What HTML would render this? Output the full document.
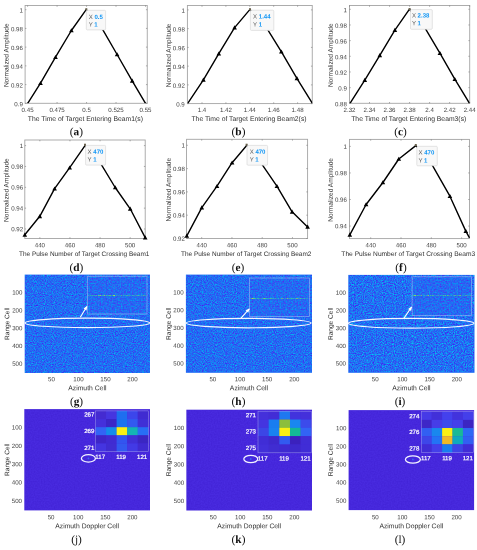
<!DOCTYPE html>
<html lang="en"><head><meta charset="utf-8"><title>Figure</title>
<style>
html,body{margin:0;padding:0;background:#fff}
svg{display:block}
text{font-family:"Liberation Sans",Arial,Helvetica,sans-serif}
text.cap{font-family:"Liberation Serif","Times New Roman",serif}
</style></head><body>
<svg width="477" height="550" viewBox="0 0 477 550">
<defs>
<filter id="nG" x="0" y="0" width="100%" height="100%" color-interpolation-filters="sRGB"><feTurbulence type="fractalNoise" baseFrequency="0.9" numOctaves="2" seed="7"/><feColorMatrix type="matrix" values="-0.42 0.2 0 0 0.245  0.90 0 0 0 -0.025  0 -0.06 0 0 0.98  0 0 0 0 1"/></filter>
<filter id="nH" x="0" y="0" width="100%" height="100%" color-interpolation-filters="sRGB"><feTurbulence type="fractalNoise" baseFrequency="0.9" numOctaves="2" seed="21"/><feColorMatrix type="matrix" values="-0.42 0.2 0 0 0.245  0.90 0 0 0 -0.025  0 -0.06 0 0 0.98  0 0 0 0 1"/></filter>
<filter id="nI" x="0" y="0" width="100%" height="100%" color-interpolation-filters="sRGB"><feTurbulence type="fractalNoise" baseFrequency="0.9" numOctaves="2" seed="42"/><feColorMatrix type="matrix" values="-0.45 0.2 0 0 0.26  1.05 0 0 0 -0.09  0 -0.06 0 0 0.98  0 0 0 0 1"/></filter>
<filter id="nJ" x="0" y="0" width="100%" height="100%" color-interpolation-filters="sRGB"><feTurbulence type="fractalNoise" baseFrequency="0.7" numOctaves="1" seed="5"/><feColorMatrix type="matrix" values="0.05 0 0 0 0.249  0.06 0 0 0 0.125  0.07 0 0 0 0.828  0 0 0 0 1"/></filter>
<filter id="nIn" x="0" y="0" width="100%" height="100%" color-interpolation-filters="sRGB"><feTurbulence type="fractalNoise" baseFrequency="0.65" numOctaves="2" seed="11"/><feColorMatrix type="matrix" values="-0.42 0.2 0 0 0.255  0.64 0 0 0 0.095  0 -0.06 0 0 0.98  0 0 0 0 1"/></filter>
<clipPath id="ca"><rect x="25.10" y="5.45" width="122.15" height="97.85"/></clipPath>
<clipPath id="cb"><rect x="187.40" y="5.45" width="124.85" height="98.15"/></clipPath>
<clipPath id="cc"><rect x="349.45" y="5.45" width="120.25" height="97.85"/></clipPath>
<clipPath id="cd"><rect x="21.80" y="140.00" width="126.40" height="99.50"/></clipPath>
<clipPath id="ce"><rect x="183.55" y="139.30" width="127.05" height="100.15"/></clipPath>
<clipPath id="cf"><rect x="346.50" y="139.40" width="126.00" height="100.20"/></clipPath>
</defs>
<rect width="477" height="550" fill="#fff"/>
<rect x="25.10" y="5.45" width="122.15" height="97.85" fill="#fff" stroke="#a4a4a4" stroke-width="0.9"/>
<path d="M27.60 103.30v-1.3M27.60 5.45v1.3" stroke="#777" stroke-width="0.6" fill="none"/>
<text x="27.60" y="112.00" transform="rotate(0.05 27.60 112.00)" font-size="6.15" text-anchor="middle" fill="#3c3c3c" >0.45</text>
<path d="M57.07 103.30v-1.3M57.07 5.45v1.3" stroke="#777" stroke-width="0.6" fill="none"/>
<text x="57.07" y="112.00" transform="rotate(0.05 57.07 112.00)" font-size="6.15" text-anchor="middle" fill="#3c3c3c" >0.475</text>
<path d="M86.55 103.30v-1.3M86.55 5.45v1.3" stroke="#777" stroke-width="0.6" fill="none"/>
<text x="86.55" y="112.00" transform="rotate(0.05 86.55 112.00)" font-size="6.15" text-anchor="middle" fill="#3c3c3c" >0.5</text>
<path d="M116.03 103.30v-1.3M116.03 5.45v1.3" stroke="#777" stroke-width="0.6" fill="none"/>
<text x="116.03" y="112.00" transform="rotate(0.05 116.03 112.00)" font-size="6.15" text-anchor="middle" fill="#3c3c3c" >0.525</text>
<path d="M145.50 103.30v-1.3M145.50 5.45v1.3" stroke="#777" stroke-width="0.6" fill="none"/>
<text x="145.50" y="112.00" transform="rotate(0.05 145.50 112.00)" font-size="6.15" text-anchor="middle" fill="#3c3c3c" >0.55</text>
<path d="M25.10 9.70h1.3M147.25 9.70h-1.3" stroke="#777" stroke-width="0.6" fill="none"/>
<text x="22.90" y="12.60" transform="rotate(0.05 22.90 12.60)" font-size="6.15" text-anchor="end" fill="#3c3c3c" >1</text>
<path d="M25.10 28.42h1.3M147.25 28.42h-1.3" stroke="#777" stroke-width="0.6" fill="none"/>
<text x="22.90" y="31.32" transform="rotate(0.05 22.90 31.32)" font-size="6.15" text-anchor="end" fill="#3c3c3c" >0.98</text>
<path d="M25.10 47.14h1.3M147.25 47.14h-1.3" stroke="#777" stroke-width="0.6" fill="none"/>
<text x="22.90" y="50.04" transform="rotate(0.05 22.90 50.04)" font-size="6.15" text-anchor="end" fill="#3c3c3c" >0.96</text>
<path d="M25.10 65.86h1.3M147.25 65.86h-1.3" stroke="#777" stroke-width="0.6" fill="none"/>
<text x="22.90" y="68.76" transform="rotate(0.05 22.90 68.76)" font-size="6.15" text-anchor="end" fill="#3c3c3c" >0.94</text>
<path d="M25.10 84.58h1.3M147.25 84.58h-1.3" stroke="#777" stroke-width="0.6" fill="none"/>
<text x="22.90" y="87.48" transform="rotate(0.05 22.90 87.48)" font-size="6.15" text-anchor="end" fill="#3c3c3c" >0.92</text>
<path d="M25.10 103.30h1.3M147.25 103.30h-1.3" stroke="#777" stroke-width="0.6" fill="none"/>
<text x="22.90" y="106.20" transform="rotate(0.05 22.90 106.20)" font-size="6.15" text-anchor="end" fill="#3c3c3c" >0.9</text>
<g clip-path="url(#ca)">
<polyline points="27.70,103.30 40.50,83.20 55.50,57.20 71.40,30.50 86.20,9.60 102.00,28.30 117.10,54.50 132.20,80.90 145.50,103.30" fill="none" stroke="#000" stroke-width="1.4" stroke-linejoin="round"/>
</g>
<polygon points="40.50,80.90 38.20,85.04 42.80,85.04" fill="#000"/>
<polygon points="55.50,54.90 53.20,59.04 57.80,59.04" fill="#000"/>
<polygon points="71.40,28.20 69.10,32.34 73.70,32.34" fill="#000"/>
<polygon points="117.10,52.20 114.80,56.34 119.40,56.34" fill="#000"/>
<polygon points="132.20,78.60 129.90,82.74 134.50,82.74" fill="#000"/>
<rect x="85.30" y="8.20" width="2" height="2" fill="#6b6450"/>
<rect x="86.30" y="10.30" width="19.30" height="19.60" rx="1" fill="#f8f8f8" stroke="#d4d4d4" stroke-width="0.6"/>
<text x="88.70" y="19.10" transform="rotate(0.05 86.30 10.30)" font-size="6.05" fill="#5c5c5c">X <tspan font-weight="bold" fill="#1196f5">0.5</tspan></text>
<text x="88.70" y="26.60" transform="rotate(0.05 86.30 10.30)" font-size="6.05" fill="#5c5c5c">Y <tspan font-weight="bold" fill="#1196f5">1</tspan></text>
<text x="85.38" y="121.00" transform="rotate(0.05 85.38 121.00)" font-size="6.8" text-anchor="middle" fill="#303030" >The Time of Target Entering Beam1(s)</text>
<text transform="translate(8.60,55.27) rotate(-89.95)" font-size="6.55" text-anchor="middle" fill="#303030">Normalized Amplitude</text>
<text x="76.30" y="135.20" transform="rotate(0.05 76.30 135.20)" font-size="11.3" text-anchor="middle" fill="#111" class="cap">(<tspan font-weight="bold">a</tspan>)</text>
<rect x="187.40" y="5.45" width="124.85" height="98.15" fill="#fff" stroke="#a4a4a4" stroke-width="0.9"/>
<path d="M202.00 103.60v-1.3M202.00 5.45v1.3" stroke="#777" stroke-width="0.6" fill="none"/>
<text x="202.00" y="112.00" transform="rotate(0.05 202.00 112.00)" font-size="6.15" text-anchor="middle" fill="#3c3c3c" >1.4</text>
<path d="M225.90 103.60v-1.3M225.90 5.45v1.3" stroke="#777" stroke-width="0.6" fill="none"/>
<text x="225.90" y="112.00" transform="rotate(0.05 225.90 112.00)" font-size="6.15" text-anchor="middle" fill="#3c3c3c" >1.42</text>
<path d="M249.80 103.60v-1.3M249.80 5.45v1.3" stroke="#777" stroke-width="0.6" fill="none"/>
<text x="249.80" y="112.00" transform="rotate(0.05 249.80 112.00)" font-size="6.15" text-anchor="middle" fill="#3c3c3c" >1.44</text>
<path d="M273.70 103.60v-1.3M273.70 5.45v1.3" stroke="#777" stroke-width="0.6" fill="none"/>
<text x="273.70" y="112.00" transform="rotate(0.05 273.70 112.00)" font-size="6.15" text-anchor="middle" fill="#3c3c3c" >1.46</text>
<path d="M297.60 103.60v-1.3M297.60 5.45v1.3" stroke="#777" stroke-width="0.6" fill="none"/>
<text x="297.60" y="112.00" transform="rotate(0.05 297.60 112.00)" font-size="6.15" text-anchor="middle" fill="#3c3c3c" >1.48</text>
<path d="M187.40 9.90h1.3M312.25 9.90h-1.3" stroke="#777" stroke-width="0.6" fill="none"/>
<text x="184.80" y="12.80" transform="rotate(0.05 184.80 12.80)" font-size="6.15" text-anchor="end" fill="#3c3c3c" >1</text>
<path d="M187.40 28.65h1.3M312.25 28.65h-1.3" stroke="#777" stroke-width="0.6" fill="none"/>
<text x="184.80" y="31.55" transform="rotate(0.05 184.80 31.55)" font-size="6.15" text-anchor="end" fill="#3c3c3c" >0.98</text>
<path d="M187.40 47.40h1.3M312.25 47.40h-1.3" stroke="#777" stroke-width="0.6" fill="none"/>
<text x="184.80" y="50.30" transform="rotate(0.05 184.80 50.30)" font-size="6.15" text-anchor="end" fill="#3c3c3c" >0.96</text>
<path d="M187.40 66.15h1.3M312.25 66.15h-1.3" stroke="#777" stroke-width="0.6" fill="none"/>
<text x="184.80" y="69.05" transform="rotate(0.05 184.80 69.05)" font-size="6.15" text-anchor="end" fill="#3c3c3c" >0.94</text>
<path d="M187.40 84.90h1.3M312.25 84.90h-1.3" stroke="#777" stroke-width="0.6" fill="none"/>
<text x="184.80" y="87.80" transform="rotate(0.05 184.80 87.80)" font-size="6.15" text-anchor="end" fill="#3c3c3c" >0.92</text>
<path d="M187.40 103.65h1.3M312.25 103.65h-1.3" stroke="#777" stroke-width="0.6" fill="none"/>
<text x="184.80" y="106.55" transform="rotate(0.05 184.80 106.55)" font-size="6.15" text-anchor="end" fill="#3c3c3c" >0.9</text>
<g clip-path="url(#cb)">
<polyline points="187.70,103.40 203.40,79.90 218.80,53.70 234.60,27.60 249.80,9.60 265.50,26.10 281.30,51.70 296.90,78.30 312.40,103.40" fill="none" stroke="#000" stroke-width="1.4" stroke-linejoin="round"/>
</g>
<polygon points="203.40,77.60 201.10,81.74 205.70,81.74" fill="#000"/>
<polygon points="218.80,51.40 216.50,55.54 221.10,55.54" fill="#000"/>
<polygon points="234.60,25.30 232.30,29.44 236.90,29.44" fill="#000"/>
<polygon points="281.30,49.40 279.00,53.54 283.60,53.54" fill="#000"/>
<polygon points="296.90,76.00 294.60,80.14 299.20,80.14" fill="#000"/>
<rect x="249.00" y="8.20" width="2" height="2" fill="#6b6450"/>
<rect x="250.40" y="10.20" width="23.40" height="20.20" rx="1" fill="#f8f8f8" stroke="#d4d4d4" stroke-width="0.6"/>
<text x="253.10" y="18.50" transform="rotate(0.05 250.40 10.20)" font-size="6.05" fill="#5c5c5c">X <tspan font-weight="bold" fill="#1196f5">1.44</tspan></text>
<text x="253.10" y="26.50" transform="rotate(0.05 250.40 10.20)" font-size="6.05" fill="#5c5c5c">Y <tspan font-weight="bold" fill="#1196f5">1</tspan></text>
<text x="249.02" y="121.00" transform="rotate(0.05 249.02 121.00)" font-size="6.8" text-anchor="middle" fill="#303030" >The Time of Target Entering Beam2(s)</text>
<text transform="translate(170.80,55.42) rotate(-89.95)" font-size="6.55" text-anchor="middle" fill="#303030">Normalized Amplitude</text>
<text x="238.50" y="135.20" transform="rotate(0.05 238.50 135.20)" font-size="11.3" text-anchor="middle" fill="#111" class="cap">(<tspan font-weight="bold">b</tspan>)</text>
<rect x="349.45" y="5.45" width="120.25" height="97.85" fill="#fff" stroke="#a4a4a4" stroke-width="0.9"/>
<path d="M349.50 103.30v-1.3M349.50 5.45v1.3" stroke="#777" stroke-width="0.6" fill="none"/>
<text x="349.50" y="112.00" transform="rotate(0.05 349.50 112.00)" font-size="6.15" text-anchor="middle" fill="#3c3c3c" >2.32</text>
<path d="M369.53 103.30v-1.3M369.53 5.45v1.3" stroke="#777" stroke-width="0.6" fill="none"/>
<text x="369.53" y="112.00" transform="rotate(0.05 369.53 112.00)" font-size="6.15" text-anchor="middle" fill="#3c3c3c" >2.34</text>
<path d="M389.56 103.30v-1.3M389.56 5.45v1.3" stroke="#777" stroke-width="0.6" fill="none"/>
<text x="389.56" y="112.00" transform="rotate(0.05 389.56 112.00)" font-size="6.15" text-anchor="middle" fill="#3c3c3c" >2.36</text>
<path d="M409.59 103.30v-1.3M409.59 5.45v1.3" stroke="#777" stroke-width="0.6" fill="none"/>
<text x="409.59" y="112.00" transform="rotate(0.05 409.59 112.00)" font-size="6.15" text-anchor="middle" fill="#3c3c3c" >2.38</text>
<path d="M429.62 103.30v-1.3M429.62 5.45v1.3" stroke="#777" stroke-width="0.6" fill="none"/>
<text x="429.62" y="112.00" transform="rotate(0.05 429.62 112.00)" font-size="6.15" text-anchor="middle" fill="#3c3c3c" >2.4</text>
<path d="M449.65 103.30v-1.3M449.65 5.45v1.3" stroke="#777" stroke-width="0.6" fill="none"/>
<text x="449.65" y="112.00" transform="rotate(0.05 449.65 112.00)" font-size="6.15" text-anchor="middle" fill="#3c3c3c" >2.42</text>
<path d="M469.68 103.30v-1.3M469.68 5.45v1.3" stroke="#777" stroke-width="0.6" fill="none"/>
<text x="469.68" y="112.00" transform="rotate(0.05 469.68 112.00)" font-size="6.15" text-anchor="middle" fill="#3c3c3c" >2.44</text>
<path d="M349.45 9.30h1.3M469.70 9.30h-1.3" stroke="#777" stroke-width="0.6" fill="none"/>
<text x="346.85" y="12.20" transform="rotate(0.05 346.85 12.20)" font-size="6.15" text-anchor="end" fill="#3c3c3c" >1</text>
<path d="M349.45 24.97h1.3M469.70 24.97h-1.3" stroke="#777" stroke-width="0.6" fill="none"/>
<text x="346.85" y="27.87" transform="rotate(0.05 346.85 27.87)" font-size="6.15" text-anchor="end" fill="#3c3c3c" >0.98</text>
<path d="M349.45 40.64h1.3M469.70 40.64h-1.3" stroke="#777" stroke-width="0.6" fill="none"/>
<text x="346.85" y="43.54" transform="rotate(0.05 346.85 43.54)" font-size="6.15" text-anchor="end" fill="#3c3c3c" >0.96</text>
<path d="M349.45 56.31h1.3M469.70 56.31h-1.3" stroke="#777" stroke-width="0.6" fill="none"/>
<text x="346.85" y="59.21" transform="rotate(0.05 346.85 59.21)" font-size="6.15" text-anchor="end" fill="#3c3c3c" >0.94</text>
<path d="M349.45 71.98h1.3M469.70 71.98h-1.3" stroke="#777" stroke-width="0.6" fill="none"/>
<text x="346.85" y="74.88" transform="rotate(0.05 346.85 74.88)" font-size="6.15" text-anchor="end" fill="#3c3c3c" >0.92</text>
<path d="M349.45 87.65h1.3M469.70 87.65h-1.3" stroke="#777" stroke-width="0.6" fill="none"/>
<text x="346.85" y="90.55" transform="rotate(0.05 346.85 90.55)" font-size="6.15" text-anchor="end" fill="#3c3c3c" >0.9</text>
<path d="M349.45 103.32h1.3M469.70 103.32h-1.3" stroke="#777" stroke-width="0.6" fill="none"/>
<text x="346.85" y="106.22" transform="rotate(0.05 346.85 106.22)" font-size="6.15" text-anchor="end" fill="#3c3c3c" >0.88</text>
<g clip-path="url(#cc)">
<polyline points="350.00,103.30 364.80,80.10 379.80,55.30 394.90,30.10 409.50,9.20 424.80,27.70 439.90,53.20 454.80,79.20 469.50,103.30" fill="none" stroke="#000" stroke-width="1.4" stroke-linejoin="round"/>
</g>
<polygon points="364.80,77.80 362.50,81.94 367.10,81.94" fill="#000"/>
<polygon points="379.80,53.00 377.50,57.14 382.10,57.14" fill="#000"/>
<polygon points="394.90,27.80 392.60,31.94 397.20,31.94" fill="#000"/>
<polygon points="439.90,50.90 437.60,55.04 442.20,55.04" fill="#000"/>
<polygon points="454.80,76.90 452.50,81.04 457.10,81.04" fill="#000"/>
<rect x="408.60" y="8.00" width="2" height="2" fill="#6b6450"/>
<rect x="410.50" y="9.60" width="21.80" height="19.70" rx="1" fill="#f8f8f8" stroke="#d4d4d4" stroke-width="0.6"/>
<text x="411.90" y="17.60" transform="rotate(0.05 410.50 9.60)" font-size="6.05" fill="#5c5c5c">X <tspan font-weight="bold" fill="#1196f5">2.38</tspan></text>
<text x="411.90" y="25.20" transform="rotate(0.05 410.50 9.60)" font-size="6.05" fill="#5c5c5c">Y <tspan font-weight="bold" fill="#1196f5">1</tspan></text>
<text x="408.77" y="121.00" transform="rotate(0.05 408.77 121.00)" font-size="6.8" text-anchor="middle" fill="#303030" >The Time of Target Entering Beam3(s)</text>
<text transform="translate(332.80,55.27) rotate(-89.95)" font-size="6.55" text-anchor="middle" fill="#303030">Normalized Amplitude</text>
<text x="400.50" y="135.20" transform="rotate(0.05 400.50 135.20)" font-size="11.3" text-anchor="middle" fill="#111" class="cap">(<tspan font-weight="bold">c</tspan>)</text>
<rect x="24.80" y="140.00" width="120.40" height="98.50" fill="#fff" stroke="#a4a4a4" stroke-width="0.9"/>
<path d="M39.85 238.50v-1.3M39.85 140.00v1.3" stroke="#777" stroke-width="0.6" fill="none"/>
<text x="39.85" y="247.30" transform="rotate(0.05 39.85 247.30)" font-size="6.15" text-anchor="middle" fill="#3c3c3c" >440</text>
<path d="M69.95 238.50v-1.3M69.95 140.00v1.3" stroke="#777" stroke-width="0.6" fill="none"/>
<text x="69.95" y="247.30" transform="rotate(0.05 69.95 247.30)" font-size="6.15" text-anchor="middle" fill="#3c3c3c" >460</text>
<path d="M100.05 238.50v-1.3M100.05 140.00v1.3" stroke="#777" stroke-width="0.6" fill="none"/>
<text x="100.05" y="247.30" transform="rotate(0.05 100.05 247.30)" font-size="6.15" text-anchor="middle" fill="#3c3c3c" >480</text>
<path d="M130.15 238.50v-1.3M130.15 140.00v1.3" stroke="#777" stroke-width="0.6" fill="none"/>
<text x="130.15" y="247.30" transform="rotate(0.05 130.15 247.30)" font-size="6.15" text-anchor="middle" fill="#3c3c3c" >500</text>
<path d="M24.80 145.60h1.3M145.20 145.60h-1.3" stroke="#777" stroke-width="0.6" fill="none"/>
<text x="23.20" y="147.90" transform="rotate(0.05 23.20 147.90)" font-size="6.15" text-anchor="end" fill="#3c3c3c" >1</text>
<path d="M24.80 166.45h1.3M145.20 166.45h-1.3" stroke="#777" stroke-width="0.6" fill="none"/>
<text x="23.20" y="168.75" transform="rotate(0.05 23.20 168.75)" font-size="6.15" text-anchor="end" fill="#3c3c3c" >0.98</text>
<path d="M24.80 187.30h1.3M145.20 187.30h-1.3" stroke="#777" stroke-width="0.6" fill="none"/>
<text x="23.20" y="189.60" transform="rotate(0.05 23.20 189.60)" font-size="6.15" text-anchor="end" fill="#3c3c3c" >0.96</text>
<path d="M24.80 208.15h1.3M145.20 208.15h-1.3" stroke="#777" stroke-width="0.6" fill="none"/>
<text x="23.20" y="210.45" transform="rotate(0.05 23.20 210.45)" font-size="6.15" text-anchor="end" fill="#3c3c3c" >0.94</text>
<path d="M24.80 229.00h1.3M145.20 229.00h-1.3" stroke="#777" stroke-width="0.6" fill="none"/>
<text x="23.20" y="231.30" transform="rotate(0.05 23.20 231.30)" font-size="6.15" text-anchor="end" fill="#3c3c3c" >0.92</text>
<g clip-path="url(#cd)">
<polyline points="24.80,234.80 39.80,216.30 54.60,188.70 69.70,167.70 85.00,145.60 100.00,162.40 115.20,187.50 130.20,208.80 145.20,237.60" fill="none" stroke="#000" stroke-width="1.4" stroke-linejoin="round"/>
</g>
<polygon points="24.80,232.50 22.50,236.64 27.10,236.64" fill="#000"/>
<polygon points="39.80,214.00 37.50,218.14 42.10,218.14" fill="#000"/>
<polygon points="54.60,186.40 52.30,190.54 56.90,190.54" fill="#000"/>
<polygon points="69.70,165.40 67.40,169.54 72.00,169.54" fill="#000"/>
<polygon points="115.20,185.20 112.90,189.34 117.50,189.34" fill="#000"/>
<polygon points="130.20,206.50 127.90,210.64 132.50,210.64" fill="#000"/>
<polygon points="145.20,235.30 142.90,239.44 147.50,239.44" fill="#000"/>
<rect x="84.00" y="143.70" width="2" height="2" fill="#6b6450"/>
<rect x="85.60" y="145.40" width="20.00" height="19.70" rx="1" fill="#f8f8f8" stroke="#d4d4d4" stroke-width="0.6"/>
<text x="87.60" y="153.70" transform="rotate(0.05 85.60 145.40)" font-size="6.05" fill="#5c5c5c">X <tspan font-weight="bold" fill="#1196f5">470</tspan></text>
<text x="87.60" y="161.50" transform="rotate(0.05 85.60 145.40)" font-size="6.05" fill="#5c5c5c">Y <tspan font-weight="bold" fill="#1196f5">1</tspan></text>
<text x="84.20" y="256.00" transform="rotate(0.05 84.20 256.00)" font-size="6.47" text-anchor="middle" fill="#303030" >The Pulse Number of Target Crossing Beam1</text>
<text transform="translate(8.60,190.15) rotate(-89.95)" font-size="6.55" text-anchor="middle" fill="#303030">Normalized Amplitude</text>
<text x="76.40" y="271.10" transform="rotate(0.05 76.40 271.10)" font-size="11.3" text-anchor="middle" fill="#111" class="cap">(<tspan font-weight="bold">d</tspan>)</text>
<rect x="186.55" y="139.30" width="121.05" height="99.15" fill="#fff" stroke="#a4a4a4" stroke-width="0.9"/>
<path d="M201.68 238.45v-1.3M201.68 139.30v1.3" stroke="#777" stroke-width="0.6" fill="none"/>
<text x="201.68" y="247.30" transform="rotate(0.05 201.68 247.30)" font-size="6.15" text-anchor="middle" fill="#3c3c3c" >440</text>
<path d="M231.94 238.45v-1.3M231.94 139.30v1.3" stroke="#777" stroke-width="0.6" fill="none"/>
<text x="231.94" y="247.30" transform="rotate(0.05 231.94 247.30)" font-size="6.15" text-anchor="middle" fill="#3c3c3c" >460</text>
<path d="M262.21 238.45v-1.3M262.21 139.30v1.3" stroke="#777" stroke-width="0.6" fill="none"/>
<text x="262.21" y="247.30" transform="rotate(0.05 262.21 247.30)" font-size="6.15" text-anchor="middle" fill="#3c3c3c" >480</text>
<path d="M292.47 238.45v-1.3M292.47 139.30v1.3" stroke="#777" stroke-width="0.6" fill="none"/>
<text x="292.47" y="247.30" transform="rotate(0.05 292.47 247.30)" font-size="6.15" text-anchor="middle" fill="#3c3c3c" >500</text>
<path d="M186.55 145.30h1.3M307.60 145.30h-1.3" stroke="#777" stroke-width="0.6" fill="none"/>
<text x="184.95" y="147.60" transform="rotate(0.05 184.95 147.60)" font-size="6.15" text-anchor="end" fill="#3c3c3c" >1</text>
<path d="M186.55 168.60h1.3M307.60 168.60h-1.3" stroke="#777" stroke-width="0.6" fill="none"/>
<text x="184.95" y="170.90" transform="rotate(0.05 184.95 170.90)" font-size="6.15" text-anchor="end" fill="#3c3c3c" >0.98</text>
<path d="M186.55 191.90h1.3M307.60 191.90h-1.3" stroke="#777" stroke-width="0.6" fill="none"/>
<text x="184.95" y="194.20" transform="rotate(0.05 184.95 194.20)" font-size="6.15" text-anchor="end" fill="#3c3c3c" >0.96</text>
<path d="M186.55 215.20h1.3M307.60 215.20h-1.3" stroke="#777" stroke-width="0.6" fill="none"/>
<text x="184.95" y="217.50" transform="rotate(0.05 184.95 217.50)" font-size="6.15" text-anchor="end" fill="#3c3c3c" >0.94</text>
<path d="M186.55 238.50h1.3M307.60 238.50h-1.3" stroke="#777" stroke-width="0.6" fill="none"/>
<text x="184.95" y="240.80" transform="rotate(0.05 184.95 240.80)" font-size="6.15" text-anchor="end" fill="#3c3c3c" >0.92</text>
<g clip-path="url(#ce)">
<polyline points="186.80,235.80 201.80,207.60 217.00,186.20 232.10,162.70 246.90,145.30 262.00,164.40 276.90,186.20 292.10,211.80 307.60,226.90" fill="none" stroke="#000" stroke-width="1.4" stroke-linejoin="round"/>
</g>
<polygon points="186.80,233.50 184.50,237.64 189.10,237.64" fill="#000"/>
<polygon points="201.80,205.30 199.50,209.44 204.10,209.44" fill="#000"/>
<polygon points="217.00,183.90 214.70,188.04 219.30,188.04" fill="#000"/>
<polygon points="232.10,160.40 229.80,164.54 234.40,164.54" fill="#000"/>
<polygon points="276.90,183.90 274.60,188.04 279.20,188.04" fill="#000"/>
<polygon points="292.10,209.50 289.80,213.64 294.40,213.64" fill="#000"/>
<polygon points="307.60,224.60 305.30,228.74 309.90,228.74" fill="#000"/>
<rect x="245.60" y="143.70" width="2" height="2" fill="#6b6450"/>
<rect x="247.00" y="145.40" width="20.60" height="19.80" rx="1" fill="#f8f8f8" stroke="#d4d4d4" stroke-width="0.6"/>
<text x="249.70" y="153.70" transform="rotate(0.05 247.00 145.40)" font-size="6.05" fill="#5c5c5c">X <tspan font-weight="bold" fill="#1196f5">470</tspan></text>
<text x="249.70" y="161.50" transform="rotate(0.05 247.00 145.40)" font-size="6.05" fill="#5c5c5c">Y <tspan font-weight="bold" fill="#1196f5">1</tspan></text>
<text x="246.28" y="256.00" transform="rotate(0.05 246.28 256.00)" font-size="6.47" text-anchor="middle" fill="#303030" >The Pulse Number of Target Crossing Beam2</text>
<text transform="translate(170.80,189.78) rotate(-89.95)" font-size="6.55" text-anchor="middle" fill="#303030">Normalized Amplitude</text>
<text x="238.00" y="271.10" transform="rotate(0.05 238.00 271.10)" font-size="11.3" text-anchor="middle" fill="#111" class="cap">(<tspan font-weight="bold">e</tspan>)</text>
<rect x="349.50" y="139.40" width="120.00" height="99.20" fill="#fff" stroke="#a4a4a4" stroke-width="0.9"/>
<path d="M370.70 238.60v-1.3M370.70 139.40v1.3" stroke="#777" stroke-width="0.6" fill="none"/>
<text x="370.70" y="247.30" transform="rotate(0.05 370.70 247.30)" font-size="6.15" text-anchor="middle" fill="#3c3c3c" >440</text>
<path d="M401.00 238.60v-1.3M401.00 139.40v1.3" stroke="#777" stroke-width="0.6" fill="none"/>
<text x="401.00" y="247.30" transform="rotate(0.05 401.00 247.30)" font-size="6.15" text-anchor="middle" fill="#3c3c3c" >460</text>
<path d="M431.30 238.60v-1.3M431.30 139.40v1.3" stroke="#777" stroke-width="0.6" fill="none"/>
<text x="431.30" y="247.30" transform="rotate(0.05 431.30 247.30)" font-size="6.15" text-anchor="middle" fill="#3c3c3c" >480</text>
<path d="M461.60 238.60v-1.3M461.60 139.40v1.3" stroke="#777" stroke-width="0.6" fill="none"/>
<text x="461.60" y="247.30" transform="rotate(0.05 461.60 247.30)" font-size="6.15" text-anchor="middle" fill="#3c3c3c" >500</text>
<path d="M349.50 146.40h1.3M469.50 146.40h-1.3" stroke="#777" stroke-width="0.6" fill="none"/>
<text x="346.90" y="148.70" transform="rotate(0.05 346.90 148.70)" font-size="6.15" text-anchor="end" fill="#3c3c3c" >1</text>
<path d="M349.50 172.95h1.3M469.50 172.95h-1.3" stroke="#777" stroke-width="0.6" fill="none"/>
<text x="346.90" y="175.25" transform="rotate(0.05 346.90 175.25)" font-size="6.15" text-anchor="end" fill="#3c3c3c" >0.98</text>
<path d="M349.50 199.50h1.3M469.50 199.50h-1.3" stroke="#777" stroke-width="0.6" fill="none"/>
<text x="346.90" y="201.80" transform="rotate(0.05 346.90 201.80)" font-size="6.15" text-anchor="end" fill="#3c3c3c" >0.96</text>
<path d="M349.50 226.05h1.3M469.50 226.05h-1.3" stroke="#777" stroke-width="0.6" fill="none"/>
<text x="346.90" y="228.35" transform="rotate(0.05 346.90 228.35)" font-size="6.15" text-anchor="end" fill="#3c3c3c" >0.94</text>
<g clip-path="url(#cf)">
<polyline points="349.80,234.80 366.10,204.50 382.90,182.50 398.80,159.00 415.80,145.60 432.40,165.30 449.90,196.20 465.80,231.10 469.50,237.80" fill="none" stroke="#000" stroke-width="1.4" stroke-linejoin="round"/>
</g>
<polygon points="349.80,232.50 347.50,236.64 352.10,236.64" fill="#000"/>
<polygon points="366.10,202.20 363.80,206.34 368.40,206.34" fill="#000"/>
<polygon points="382.90,180.20 380.60,184.34 385.20,184.34" fill="#000"/>
<polygon points="398.80,156.70 396.50,160.84 401.10,160.84" fill="#000"/>
<polygon points="449.90,193.90 447.60,198.04 452.20,198.04" fill="#000"/>
<polygon points="465.80,228.80 463.50,232.94 468.10,232.94" fill="#000"/>
<rect x="414.80" y="144.00" width="2" height="2" fill="#6b6450"/>
<rect x="416.80" y="146.30" width="20.50" height="19.50" rx="1" fill="#f8f8f8" stroke="#d4d4d4" stroke-width="0.6"/>
<text x="418.50" y="154.60" transform="rotate(0.05 416.80 146.30)" font-size="6.05" fill="#5c5c5c">X <tspan font-weight="bold" fill="#1196f5">470</tspan></text>
<text x="418.50" y="162.40" transform="rotate(0.05 416.80 146.30)" font-size="6.05" fill="#5c5c5c">Y <tspan font-weight="bold" fill="#1196f5">1</tspan></text>
<text x="408.30" y="256.00" transform="rotate(0.05 408.30 256.00)" font-size="6.65" text-anchor="middle" fill="#303030" >The Pulse Number of Target Crossing Beam3</text>
<text transform="translate(332.80,189.90) rotate(-89.95)" font-size="6.55" text-anchor="middle" fill="#303030">Normalized Amplitude</text>
<text x="401.00" y="271.10" transform="rotate(0.05 401.00 271.10)" font-size="11.3" text-anchor="middle" fill="#111" class="cap">(<tspan font-weight="bold">f</tspan>)</text>
<rect x="24.70" y="274.60" width="125.30" height="98.40" fill="#1d6cf3"/>
<rect x="25" y="275" width="125" height="98" fill="#1d6cf3" filter="url(#nG)"/>
<text x="51.43" y="381.20" transform="rotate(0.05 51.43 381.20)" font-size="6.15" text-anchor="middle" fill="#3c3c3c" >50</text>
<text x="78.44" y="381.20" transform="rotate(0.05 78.44 381.20)" font-size="6.15" text-anchor="middle" fill="#3c3c3c" >100</text>
<text x="105.44" y="381.20" transform="rotate(0.05 105.44 381.20)" font-size="6.15" text-anchor="middle" fill="#3c3c3c" >150</text>
<text x="132.45" y="381.20" transform="rotate(0.05 132.45 381.20)" font-size="6.15" text-anchor="middle" fill="#3c3c3c" >200</text>
<text x="22.40" y="294.60" transform="rotate(0.05 22.40 294.60)" font-size="6.15" text-anchor="end" fill="#3c3c3c" >100</text>
<text x="22.40" y="312.40" transform="rotate(0.05 22.40 312.40)" font-size="6.15" text-anchor="end" fill="#3c3c3c" >200</text>
<text x="22.40" y="330.19" transform="rotate(0.05 22.40 330.19)" font-size="6.15" text-anchor="end" fill="#3c3c3c" >300</text>
<text x="22.40" y="347.99" transform="rotate(0.05 22.40 347.99)" font-size="6.15" text-anchor="end" fill="#3c3c3c" >400</text>
<text x="22.40" y="365.78" transform="rotate(0.05 22.40 365.78)" font-size="6.15" text-anchor="end" fill="#3c3c3c" >500</text>
<text x="87.35" y="390.30" transform="rotate(0.05 87.35 390.30)" font-size="6.8" text-anchor="middle" fill="#303030" >Azimuth Cell</text>
<text transform="translate(9.20,323.80) rotate(-89.95)" font-size="6.55" text-anchor="middle" fill="#303030">Range Cell</text>
<text x="76.50" y="405.10" transform="rotate(0.05 76.50 405.10)" font-size="11.3" text-anchor="middle" fill="#111" class="cap">(<tspan font-weight="bold">g</tspan>)</text>
<rect x="88" y="277" width="59" height="37" fill="#1d6cf3" filter="url(#nIn)"/>
<rect x="87.30" y="276.20" width="59.70" height="37.80" fill="none" stroke="#c2cdf2" stroke-opacity="0.7" stroke-width="0.65"/>
<line x1="88.10" y1="295.50" x2="89.10" y2="295.50" stroke="#2fb4c4" stroke-opacity="1.0" stroke-width="1"/>
<line x1="89.60" y1="295.50" x2="90.80" y2="295.50" stroke="#4fd08a" stroke-opacity="0.5" stroke-width="1"/>
<line x1="91.30" y1="295.50" x2="93.30" y2="295.50" stroke="#58d37c" stroke-opacity="0.5" stroke-width="1"/>
<line x1="93.80" y1="295.50" x2="94.80" y2="295.50" stroke="#4fd08a" stroke-opacity="0.65" stroke-width="1"/>
<line x1="95.60" y1="295.50" x2="96.80" y2="295.50" stroke="#4fd08a" stroke-opacity="0.8" stroke-width="1"/>
<line x1="97.90" y1="295.50" x2="98.70" y2="295.50" stroke="#9be34e" stroke-opacity="0.9" stroke-width="1"/>
<line x1="98.90" y1="295.50" x2="99.70" y2="295.50" stroke="#6fdc6a" stroke-opacity="0.8" stroke-width="1"/>
<line x1="99.70" y1="295.50" x2="101.20" y2="295.50" stroke="#9be34e" stroke-opacity="0.8" stroke-width="1"/>
<line x1="102.00" y1="295.50" x2="104.00" y2="295.50" stroke="#3fc9a0" stroke-opacity="0.65" stroke-width="1"/>
<line x1="104.20" y1="295.50" x2="105.00" y2="295.50" stroke="#9be34e" stroke-opacity="1.0" stroke-width="1"/>
<line x1="105.80" y1="295.50" x2="107.30" y2="295.50" stroke="#9be34e" stroke-opacity="0.5" stroke-width="1"/>
<line x1="108.40" y1="295.50" x2="109.90" y2="295.50" stroke="#58d37c" stroke-opacity="0.9" stroke-width="1"/>
<line x1="109.90" y1="295.50" x2="110.90" y2="295.50" stroke="#58d37c" stroke-opacity="0.9" stroke-width="1"/>
<line x1="111.40" y1="295.50" x2="112.90" y2="295.50" stroke="#35c3a0" stroke-opacity="0.5" stroke-width="1"/>
<line x1="113.10" y1="295.50" x2="115.10" y2="295.50" stroke="#9be34e" stroke-opacity="1.0" stroke-width="1"/>
<line x1="116.20" y1="295.50" x2="117.20" y2="295.50" stroke="#58d37c" stroke-opacity="0.65" stroke-width="1"/>
<line x1="118.30" y1="295.50" x2="119.50" y2="295.50" stroke="#35c3a0" stroke-opacity="0.8" stroke-width="1"/>
<line x1="120.30" y1="295.50" x2="121.30" y2="295.50" stroke="#2fb4c4" stroke-opacity="0.5" stroke-width="1"/>
<line x1="121.30" y1="295.50" x2="122.10" y2="295.50" stroke="#9be34e" stroke-opacity="0.65" stroke-width="1"/>
<line x1="122.90" y1="295.50" x2="123.90" y2="295.50" stroke="#2fb4c4" stroke-opacity="0.9" stroke-width="1"/>
<line x1="124.40" y1="295.50" x2="125.40" y2="295.50" stroke="#35c3a0" stroke-opacity="0.65" stroke-width="1"/>
<line x1="125.90" y1="295.50" x2="126.90" y2="295.50" stroke="#35c3a0" stroke-opacity="0.9" stroke-width="1"/>
<line x1="127.10" y1="295.50" x2="128.30" y2="295.50" stroke="#58d37c" stroke-opacity="0.65" stroke-width="1"/>
<line x1="128.30" y1="295.50" x2="129.80" y2="295.50" stroke="#4fd08a" stroke-opacity="0.5" stroke-width="1"/>
<line x1="129.80" y1="295.50" x2="131.00" y2="295.50" stroke="#2fb4c4" stroke-opacity="0.5" stroke-width="1"/>
<line x1="131.80" y1="295.50" x2="133.80" y2="295.50" stroke="#2fb4c4" stroke-opacity="1.0" stroke-width="1"/>
<line x1="134.30" y1="295.50" x2="135.30" y2="295.50" stroke="#35c3a0" stroke-opacity="0.8" stroke-width="1"/>
<line x1="136.10" y1="295.50" x2="137.30" y2="295.50" stroke="#6fdc6a" stroke-opacity="0.5" stroke-width="1"/>
<line x1="137.50" y1="295.50" x2="139.50" y2="295.50" stroke="#3fc9a0" stroke-opacity="0.9" stroke-width="1"/>
<line x1="140.60" y1="295.50" x2="142.10" y2="295.50" stroke="#2fb4c4" stroke-opacity="0.65" stroke-width="1"/>
<line x1="142.90" y1="295.50" x2="143.70" y2="295.50" stroke="#6fdc6a" stroke-opacity="0.8" stroke-width="1"/>
<line x1="143.70" y1="295.50" x2="144.50" y2="295.50" stroke="#4fd08a" stroke-opacity="1.0" stroke-width="1"/>
<line x1="145.60" y1="295.50" x2="146.40" y2="295.50" stroke="#35c3a0" stroke-opacity="1.0" stroke-width="1"/>
<line x1="80.30" y1="317.20" x2="86.90" y2="306.50" stroke="#fff" stroke-width="1.1"/>
<polygon points="87.21,305.99 86.54,310.51 83.48,308.62" fill="#fff"/>
<ellipse cx="87.30" cy="322.90" rx="62.30" ry="4.70" fill="none" stroke="#f4f6ff" stroke-width="1.15"/>
<rect x="185.90" y="274.60" width="126.10" height="98.20" fill="#1d6cf3"/>
<rect x="186" y="275" width="126" height="97" fill="#1d6cf3" filter="url(#nH)"/>
<text x="212.80" y="381.20" transform="rotate(0.05 212.80 381.20)" font-size="6.15" text-anchor="middle" fill="#3c3c3c" >50</text>
<text x="239.98" y="381.20" transform="rotate(0.05 239.98 381.20)" font-size="6.15" text-anchor="middle" fill="#3c3c3c" >100</text>
<text x="267.16" y="381.20" transform="rotate(0.05 267.16 381.20)" font-size="6.15" text-anchor="middle" fill="#3c3c3c" >150</text>
<text x="294.34" y="381.20" transform="rotate(0.05 294.34 381.20)" font-size="6.15" text-anchor="middle" fill="#3c3c3c" >200</text>
<text x="183.60" y="294.57" transform="rotate(0.05 183.60 294.57)" font-size="6.15" text-anchor="end" fill="#3c3c3c" >100</text>
<text x="183.60" y="312.33" transform="rotate(0.05 183.60 312.33)" font-size="6.15" text-anchor="end" fill="#3c3c3c" >200</text>
<text x="183.60" y="330.08" transform="rotate(0.05 183.60 330.08)" font-size="6.15" text-anchor="end" fill="#3c3c3c" >300</text>
<text x="183.60" y="347.84" transform="rotate(0.05 183.60 347.84)" font-size="6.15" text-anchor="end" fill="#3c3c3c" >400</text>
<text x="183.60" y="365.60" transform="rotate(0.05 183.60 365.60)" font-size="6.15" text-anchor="end" fill="#3c3c3c" >500</text>
<text x="248.95" y="390.30" transform="rotate(0.05 248.95 390.30)" font-size="6.8" text-anchor="middle" fill="#303030" >Azimuth Cell</text>
<text transform="translate(170.80,323.70) rotate(-89.95)" font-size="6.55" text-anchor="middle" fill="#303030">Range Cell</text>
<text x="238.50" y="405.10" transform="rotate(0.05 238.50 405.10)" font-size="11.3" text-anchor="middle" fill="#111" class="cap">(<tspan font-weight="bold">h</tspan>)</text>
<rect x="250" y="278" width="59" height="38" fill="#1d6cf3" filter="url(#nIn)"/>
<rect x="249.60" y="278.00" width="59.70" height="38.30" fill="none" stroke="#c2cdf2" stroke-opacity="0.7" stroke-width="0.65"/>
<line x1="250.40" y1="298.50" x2="251.20" y2="298.50" stroke="#4fd08a" stroke-opacity="0.8" stroke-width="1"/>
<line x1="251.70" y1="298.50" x2="253.70" y2="298.50" stroke="#9be34e" stroke-opacity="1.0" stroke-width="1"/>
<line x1="253.70" y1="298.50" x2="255.70" y2="298.50" stroke="#58d37c" stroke-opacity="0.9" stroke-width="1"/>
<line x1="256.80" y1="298.50" x2="258.80" y2="298.50" stroke="#35c3a0" stroke-opacity="1.0" stroke-width="1"/>
<line x1="258.80" y1="298.50" x2="260.80" y2="298.50" stroke="#35c3a0" stroke-opacity="0.5" stroke-width="1"/>
<line x1="261.60" y1="298.50" x2="262.60" y2="298.50" stroke="#2fb4c4" stroke-opacity="0.9" stroke-width="1"/>
<line x1="262.80" y1="298.50" x2="263.80" y2="298.50" stroke="#6fdc6a" stroke-opacity="0.8" stroke-width="1"/>
<line x1="264.00" y1="298.50" x2="265.20" y2="298.50" stroke="#6fdc6a" stroke-opacity="1.0" stroke-width="1"/>
<line x1="265.20" y1="298.50" x2="266.70" y2="298.50" stroke="#3fc9a0" stroke-opacity="0.9" stroke-width="1"/>
<line x1="266.90" y1="298.50" x2="268.90" y2="298.50" stroke="#35c3a0" stroke-opacity="0.5" stroke-width="1"/>
<line x1="268.90" y1="298.50" x2="269.70" y2="298.50" stroke="#6fdc6a" stroke-opacity="0.65" stroke-width="1"/>
<line x1="269.90" y1="298.50" x2="271.90" y2="298.50" stroke="#4fd08a" stroke-opacity="0.8" stroke-width="1"/>
<line x1="272.10" y1="298.50" x2="274.10" y2="298.50" stroke="#2fb4c4" stroke-opacity="0.9" stroke-width="1"/>
<line x1="274.60" y1="298.50" x2="276.10" y2="298.50" stroke="#3fc9a0" stroke-opacity="0.65" stroke-width="1"/>
<line x1="276.30" y1="298.50" x2="277.30" y2="298.50" stroke="#35c3a0" stroke-opacity="0.5" stroke-width="1"/>
<line x1="278.10" y1="298.50" x2="279.10" y2="298.50" stroke="#3fc9a0" stroke-opacity="0.65" stroke-width="1"/>
<line x1="279.90" y1="298.50" x2="280.70" y2="298.50" stroke="#2fb4c4" stroke-opacity="0.5" stroke-width="1"/>
<line x1="281.50" y1="298.50" x2="282.50" y2="298.50" stroke="#9be34e" stroke-opacity="1.0" stroke-width="1"/>
<line x1="283.00" y1="298.50" x2="284.00" y2="298.50" stroke="#2fb4c4" stroke-opacity="0.9" stroke-width="1"/>
<line x1="285.10" y1="298.50" x2="286.10" y2="298.50" stroke="#4fd08a" stroke-opacity="0.5" stroke-width="1"/>
<line x1="286.30" y1="298.50" x2="287.10" y2="298.50" stroke="#2fb4c4" stroke-opacity="0.8" stroke-width="1"/>
<line x1="287.10" y1="298.50" x2="288.30" y2="298.50" stroke="#9be34e" stroke-opacity="0.8" stroke-width="1"/>
<line x1="289.10" y1="298.50" x2="290.10" y2="298.50" stroke="#58d37c" stroke-opacity="0.65" stroke-width="1"/>
<line x1="290.60" y1="298.50" x2="292.60" y2="298.50" stroke="#35c3a0" stroke-opacity="1.0" stroke-width="1"/>
<line x1="292.80" y1="298.50" x2="294.80" y2="298.50" stroke="#2fb4c4" stroke-opacity="0.8" stroke-width="1"/>
<line x1="295.00" y1="298.50" x2="296.00" y2="298.50" stroke="#2fb4c4" stroke-opacity="0.8" stroke-width="1"/>
<line x1="296.00" y1="298.50" x2="298.00" y2="298.50" stroke="#9be34e" stroke-opacity="0.65" stroke-width="1"/>
<line x1="298.50" y1="298.50" x2="299.30" y2="298.50" stroke="#58d37c" stroke-opacity="0.9" stroke-width="1"/>
<line x1="299.50" y1="298.50" x2="301.50" y2="298.50" stroke="#4fd08a" stroke-opacity="0.8" stroke-width="1"/>
<line x1="302.60" y1="298.50" x2="303.80" y2="298.50" stroke="#3fc9a0" stroke-opacity="0.65" stroke-width="1"/>
<line x1="303.80" y1="298.50" x2="305.30" y2="298.50" stroke="#2fb4c4" stroke-opacity="1.0" stroke-width="1"/>
<line x1="306.40" y1="298.50" x2="307.90" y2="298.50" stroke="#3fc9a0" stroke-opacity="0.65" stroke-width="1"/>
<line x1="241.00" y1="318.10" x2="249.30" y2="308.90" stroke="#fff" stroke-width="1.1"/>
<polygon points="249.70,308.45 248.23,312.78 245.55,310.37" fill="#fff"/>
<ellipse cx="248.70" cy="323.10" rx="62.40" ry="4.70" fill="none" stroke="#f4f6ff" stroke-width="1.15"/>
<rect x="348.30" y="274.90" width="126.20" height="97.90" fill="#1d6cf3"/>
<rect x="349" y="275" width="125" height="97" fill="#1d6cf3" filter="url(#nI)"/>
<text x="375.23" y="381.20" transform="rotate(0.05 375.23 381.20)" font-size="6.15" text-anchor="middle" fill="#3c3c3c" >50</text>
<text x="402.42" y="381.20" transform="rotate(0.05 402.42 381.20)" font-size="6.15" text-anchor="middle" fill="#3c3c3c" >100</text>
<text x="429.62" y="381.20" transform="rotate(0.05 429.62 381.20)" font-size="6.15" text-anchor="middle" fill="#3c3c3c" >150</text>
<text x="456.82" y="381.20" transform="rotate(0.05 456.82 381.20)" font-size="6.15" text-anchor="middle" fill="#3c3c3c" >200</text>
<text x="346.00" y="294.81" transform="rotate(0.05 346.00 294.81)" font-size="6.15" text-anchor="end" fill="#3c3c3c" >100</text>
<text x="346.00" y="312.52" transform="rotate(0.05 346.00 312.52)" font-size="6.15" text-anchor="end" fill="#3c3c3c" >200</text>
<text x="346.00" y="330.22" transform="rotate(0.05 346.00 330.22)" font-size="6.15" text-anchor="end" fill="#3c3c3c" >300</text>
<text x="346.00" y="347.93" transform="rotate(0.05 346.00 347.93)" font-size="6.15" text-anchor="end" fill="#3c3c3c" >400</text>
<text x="346.00" y="365.63" transform="rotate(0.05 346.00 365.63)" font-size="6.15" text-anchor="end" fill="#3c3c3c" >500</text>
<text x="411.40" y="390.30" transform="rotate(0.05 411.40 390.30)" font-size="6.8" text-anchor="middle" fill="#303030" >Azimuth Cell</text>
<text transform="translate(332.80,323.85) rotate(-89.95)" font-size="6.55" text-anchor="middle" fill="#303030">Range Cell</text>
<text x="400.00" y="405.10" transform="rotate(0.05 400.00 405.10)" font-size="11.3" text-anchor="middle" fill="#111" class="cap">(<tspan font-weight="bold">i</tspan>)</text>
<rect x="413" y="277" width="58" height="38" fill="#1d6cf3" filter="url(#nIn)"/>
<rect x="412.10" y="276.80" width="59.60" height="38.70" fill="none" stroke="#c2cdf2" stroke-opacity="0.7" stroke-width="0.65"/>
<line x1="412.90" y1="295.50" x2="413.90" y2="295.50" stroke="#35c3a0" stroke-opacity="1.0" stroke-width="1"/>
<line x1="414.10" y1="295.50" x2="416.10" y2="295.50" stroke="#9be34e" stroke-opacity="0.9" stroke-width="1"/>
<line x1="417.20" y1="295.50" x2="418.70" y2="295.50" stroke="#58d37c" stroke-opacity="0.8" stroke-width="1"/>
<line x1="418.90" y1="295.50" x2="420.90" y2="295.50" stroke="#2fb4c4" stroke-opacity="0.5" stroke-width="1"/>
<line x1="420.90" y1="295.50" x2="422.10" y2="295.50" stroke="#9be34e" stroke-opacity="0.65" stroke-width="1"/>
<line x1="423.20" y1="295.50" x2="425.20" y2="295.50" stroke="#2fb4c4" stroke-opacity="0.8" stroke-width="1"/>
<line x1="426.00" y1="295.50" x2="427.00" y2="295.50" stroke="#2fb4c4" stroke-opacity="0.8" stroke-width="1"/>
<line x1="427.50" y1="295.50" x2="429.00" y2="295.50" stroke="#9be34e" stroke-opacity="0.8" stroke-width="1"/>
<line x1="430.10" y1="295.50" x2="431.30" y2="295.50" stroke="#58d37c" stroke-opacity="0.8" stroke-width="1"/>
<line x1="432.10" y1="295.50" x2="432.90" y2="295.50" stroke="#58d37c" stroke-opacity="0.9" stroke-width="1"/>
<line x1="432.90" y1="295.50" x2="434.40" y2="295.50" stroke="#4fd08a" stroke-opacity="0.5" stroke-width="1"/>
<line x1="435.20" y1="295.50" x2="437.20" y2="295.50" stroke="#2fb4c4" stroke-opacity="0.5" stroke-width="1"/>
<line x1="437.40" y1="295.50" x2="439.40" y2="295.50" stroke="#4fd08a" stroke-opacity="0.5" stroke-width="1"/>
<line x1="440.20" y1="295.50" x2="441.70" y2="295.50" stroke="#2fb4c4" stroke-opacity="0.9" stroke-width="1"/>
<line x1="442.50" y1="295.50" x2="444.00" y2="295.50" stroke="#3fc9a0" stroke-opacity="0.9" stroke-width="1"/>
<line x1="444.50" y1="295.50" x2="446.00" y2="295.50" stroke="#58d37c" stroke-opacity="0.9" stroke-width="1"/>
<line x1="447.10" y1="295.50" x2="448.60" y2="295.50" stroke="#58d37c" stroke-opacity="1.0" stroke-width="1"/>
<line x1="449.40" y1="295.50" x2="450.40" y2="295.50" stroke="#3fc9a0" stroke-opacity="0.65" stroke-width="1"/>
<line x1="450.60" y1="295.50" x2="452.10" y2="295.50" stroke="#2fb4c4" stroke-opacity="0.8" stroke-width="1"/>
<line x1="453.20" y1="295.50" x2="454.70" y2="295.50" stroke="#2fb4c4" stroke-opacity="0.9" stroke-width="1"/>
<line x1="454.70" y1="295.50" x2="455.50" y2="295.50" stroke="#9be34e" stroke-opacity="0.9" stroke-width="1"/>
<line x1="456.30" y1="295.50" x2="457.30" y2="295.50" stroke="#4fd08a" stroke-opacity="0.5" stroke-width="1"/>
<line x1="457.50" y1="295.50" x2="458.50" y2="295.50" stroke="#4fd08a" stroke-opacity="0.8" stroke-width="1"/>
<line x1="459.00" y1="295.50" x2="460.20" y2="295.50" stroke="#3fc9a0" stroke-opacity="0.9" stroke-width="1"/>
<line x1="460.20" y1="295.50" x2="461.00" y2="295.50" stroke="#6fdc6a" stroke-opacity="1.0" stroke-width="1"/>
<line x1="462.10" y1="295.50" x2="464.10" y2="295.50" stroke="#2fb4c4" stroke-opacity="0.5" stroke-width="1"/>
<line x1="464.60" y1="295.50" x2="466.60" y2="295.50" stroke="#4fd08a" stroke-opacity="0.5" stroke-width="1"/>
<line x1="466.60" y1="295.50" x2="467.40" y2="295.50" stroke="#6fdc6a" stroke-opacity="0.9" stroke-width="1"/>
<line x1="467.90" y1="295.50" x2="469.90" y2="295.50" stroke="#2fb4c4" stroke-opacity="0.5" stroke-width="1"/>
<line x1="469.90" y1="295.50" x2="470.70" y2="295.50" stroke="#4fd08a" stroke-opacity="0.9" stroke-width="1"/>
<line x1="404.00" y1="318.10" x2="411.60" y2="307.00" stroke="#fff" stroke-width="1.1"/>
<polygon points="411.94,306.50 411.05,310.99 408.08,308.95" fill="#fff"/>
<ellipse cx="411.20" cy="323.30" rx="62.80" ry="4.90" fill="none" stroke="#f4f6ff" stroke-width="1.15"/>
<rect x="24.30" y="409.10" width="125.70" height="101.30" fill="#4628dc"/>
<rect x="25" y="410" width="125" height="100" fill="#4628dc" filter="url(#nJ)"/>
<text x="51.12" y="519.20" transform="rotate(0.05 51.12 519.20)" font-size="6.15" text-anchor="middle" fill="#3c3c3c" >50</text>
<text x="78.21" y="519.20" transform="rotate(0.05 78.21 519.20)" font-size="6.15" text-anchor="middle" fill="#3c3c3c" >100</text>
<text x="105.30" y="519.20" transform="rotate(0.05 105.30 519.20)" font-size="6.15" text-anchor="middle" fill="#3c3c3c" >150</text>
<text x="132.39" y="519.20" transform="rotate(0.05 132.39 519.20)" font-size="6.15" text-anchor="middle" fill="#3c3c3c" >200</text>
<text x="22.00" y="429.63" transform="rotate(0.05 22.00 429.63)" font-size="6.15" text-anchor="end" fill="#3c3c3c" >100</text>
<text x="22.00" y="447.94" transform="rotate(0.05 22.00 447.94)" font-size="6.15" text-anchor="end" fill="#3c3c3c" >200</text>
<text x="22.00" y="466.26" transform="rotate(0.05 22.00 466.26)" font-size="6.15" text-anchor="end" fill="#3c3c3c" >300</text>
<text x="22.00" y="484.58" transform="rotate(0.05 22.00 484.58)" font-size="6.15" text-anchor="end" fill="#3c3c3c" >400</text>
<text x="22.00" y="502.90" transform="rotate(0.05 22.00 502.90)" font-size="6.15" text-anchor="end" fill="#3c3c3c" >500</text>
<text x="87.15" y="528.30" transform="rotate(0.05 87.15 528.30)" font-size="6.8" text-anchor="middle" fill="#303030" >Azimuth Doppler Cell</text>
<text transform="translate(9.20,459.75) rotate(-89.95)" font-size="6.55" text-anchor="middle" fill="#303030">Range Cell</text>
<text x="76.50" y="542.90" transform="rotate(0.05 76.50 542.90)" font-size="11.3" text-anchor="middle" fill="#111" class="cap">(<tspan font-weight="normal">j</tspan>)</text>
<rect x="95.50" y="410.90" width="10.71" height="8.29" fill="rgb(68,43,209)"/>
<rect x="106.06" y="410.90" width="10.71" height="8.29" fill="rgb(70,53,224)"/>
<rect x="116.62" y="410.90" width="10.71" height="8.29" fill="rgb(30,110,240)"/>
<rect x="127.18" y="410.90" width="10.71" height="8.29" fill="rgb(60,70,235)"/>
<rect x="137.74" y="410.90" width="10.71" height="8.29" fill="rgb(64,43,209)"/>
<rect x="95.50" y="419.04" width="10.71" height="8.29" fill="rgb(68,48,219)"/>
<rect x="106.06" y="419.04" width="10.71" height="8.29" fill="rgb(59,38,199)"/>
<rect x="116.62" y="419.04" width="10.71" height="8.29" fill="rgb(25,115,240)"/>
<rect x="127.18" y="419.04" width="10.71" height="8.29" fill="rgb(50,90,240)"/>
<rect x="137.74" y="419.04" width="10.71" height="8.29" fill="rgb(64,48,214)"/>
<rect x="95.50" y="427.18" width="10.71" height="8.29" fill="rgb(50,100,245)"/>
<rect x="106.06" y="427.18" width="10.71" height="8.29" fill="rgb(20,140,235)"/>
<rect x="116.62" y="427.18" width="10.71" height="8.29" fill="rgb(250,240,20)"/>
<rect x="127.18" y="427.18" width="10.71" height="8.29" fill="rgb(20,180,180)"/>
<rect x="137.74" y="427.18" width="10.71" height="8.29" fill="rgb(40,110,245)"/>
<rect x="95.50" y="435.32" width="10.71" height="8.29" fill="rgb(62,38,199)"/>
<rect x="106.06" y="435.32" width="10.71" height="8.29" fill="rgb(64,43,209)"/>
<rect x="116.62" y="435.32" width="10.71" height="8.29" fill="rgb(50,85,240)"/>
<rect x="127.18" y="435.32" width="10.71" height="8.29" fill="rgb(64,48,214)"/>
<rect x="137.74" y="435.32" width="10.71" height="8.29" fill="rgb(59,38,194)"/>
<rect x="95.50" y="443.46" width="10.71" height="8.29" fill="rgb(68,53,224)"/>
<rect x="106.06" y="443.46" width="10.71" height="8.29" fill="rgb(64,45,209)"/>
<rect x="116.62" y="443.46" width="10.71" height="8.29" fill="rgb(50,90,240)"/>
<rect x="127.18" y="443.46" width="10.71" height="8.29" fill="rgb(66,58,229)"/>
<rect x="137.74" y="443.46" width="10.71" height="8.29" fill="rgb(64,43,209)"/>
<rect x="95.50" y="410.90" width="52.80" height="40.70" fill="none" stroke="#cfd3f5" stroke-opacity="0.6" stroke-width="0.55"/>
<text x="89.30" y="416.50" transform="rotate(0.05 89.30 416.50)" font-size="6.1" text-anchor="middle" fill="#fff" stroke="#fff" stroke-width="0.2">267</text>
<text x="89.30" y="433.10" transform="rotate(0.05 89.30 433.10)" font-size="6.1" text-anchor="middle" fill="#fff" stroke="#fff" stroke-width="0.2">269</text>
<text x="89.30" y="449.90" transform="rotate(0.05 89.30 449.90)" font-size="6.1" text-anchor="middle" fill="#fff" stroke="#fff" stroke-width="0.2">271</text>
<text x="100.20" y="458.90" transform="rotate(0.05 100.20 458.90)" font-size="6.1" text-anchor="middle" fill="#fff" stroke="#fff" stroke-width="0.2">117</text>
<text x="121.10" y="458.90" transform="rotate(0.05 121.10 458.90)" font-size="6.1" text-anchor="middle" fill="#fff" stroke="#fff" stroke-width="0.2">119</text>
<text x="142.10" y="458.90" transform="rotate(0.05 142.10 458.90)" font-size="6.1" text-anchor="middle" fill="#fff" stroke="#fff" stroke-width="0.2">121</text>
<circle cx="88.40" cy="458.40" r="0.9" fill="#3a78f0" fill-opacity="0.8"/>
<ellipse cx="88.40" cy="458.40" rx="7.00" ry="3.70" fill="none" stroke="#f4f4ff" stroke-width="1.25"/>
<rect x="186.35" y="409.70" width="125.65" height="100.80" fill="#4628dc"/>
<rect x="187" y="410" width="125" height="100" fill="#4628dc" filter="url(#nJ)"/>
<text x="213.16" y="519.20" transform="rotate(0.05 213.16 519.20)" font-size="6.15" text-anchor="middle" fill="#3c3c3c" >50</text>
<text x="240.24" y="519.20" transform="rotate(0.05 240.24 519.20)" font-size="6.15" text-anchor="middle" fill="#3c3c3c" >100</text>
<text x="267.32" y="519.20" transform="rotate(0.05 267.32 519.20)" font-size="6.15" text-anchor="middle" fill="#3c3c3c" >150</text>
<text x="294.40" y="519.20" transform="rotate(0.05 294.40 519.20)" font-size="6.15" text-anchor="middle" fill="#3c3c3c" >200</text>
<text x="184.05" y="430.14" transform="rotate(0.05 184.05 430.14)" font-size="6.15" text-anchor="end" fill="#3c3c3c" >100</text>
<text x="184.05" y="448.36" transform="rotate(0.05 184.05 448.36)" font-size="6.15" text-anchor="end" fill="#3c3c3c" >200</text>
<text x="184.05" y="466.59" transform="rotate(0.05 184.05 466.59)" font-size="6.15" text-anchor="end" fill="#3c3c3c" >300</text>
<text x="184.05" y="484.82" transform="rotate(0.05 184.05 484.82)" font-size="6.15" text-anchor="end" fill="#3c3c3c" >400</text>
<text x="184.05" y="503.05" transform="rotate(0.05 184.05 503.05)" font-size="6.15" text-anchor="end" fill="#3c3c3c" >500</text>
<text x="249.18" y="528.30" transform="rotate(0.05 249.18 528.30)" font-size="6.8" text-anchor="middle" fill="#303030" >Azimuth Doppler Cell</text>
<text transform="translate(170.80,460.10) rotate(-89.95)" font-size="6.55" text-anchor="middle" fill="#303030">Range Cell</text>
<text x="238.50" y="542.90" transform="rotate(0.05 238.50 542.90)" font-size="11.3" text-anchor="middle" fill="#111" class="cap">(<tspan font-weight="bold">k</tspan>)</text>
<rect x="258.00" y="411.20" width="10.81" height="8.47" fill="rgb(68,48,219)"/>
<rect x="268.66" y="411.20" width="10.81" height="8.47" fill="rgb(66,45,214)"/>
<rect x="279.32" y="411.20" width="10.81" height="8.47" fill="rgb(30,120,240)"/>
<rect x="289.98" y="411.20" width="10.81" height="8.47" fill="rgb(66,51,221)"/>
<rect x="300.64" y="411.20" width="10.81" height="8.47" fill="rgb(68,48,219)"/>
<rect x="258.00" y="419.52" width="10.81" height="8.47" fill="rgb(68,53,224)"/>
<rect x="268.66" y="419.52" width="10.81" height="8.47" fill="rgb(25,125,240)"/>
<rect x="279.32" y="419.52" width="10.81" height="8.47" fill="rgb(140,190,60)"/>
<rect x="289.98" y="419.52" width="10.81" height="8.47" fill="rgb(25,135,240)"/>
<rect x="300.64" y="419.52" width="10.81" height="8.47" fill="rgb(60,75,235)"/>
<rect x="258.00" y="427.84" width="10.81" height="8.47" fill="rgb(60,70,230)"/>
<rect x="268.66" y="427.84" width="10.81" height="8.47" fill="rgb(25,130,240)"/>
<rect x="279.32" y="427.84" width="10.81" height="8.47" fill="rgb(250,240,20)"/>
<rect x="289.98" y="427.84" width="10.81" height="8.47" fill="rgb(20,185,150)"/>
<rect x="300.64" y="427.84" width="10.81" height="8.47" fill="rgb(50,100,245)"/>
<rect x="258.00" y="436.16" width="10.81" height="8.47" fill="rgb(64,45,214)"/>
<rect x="268.66" y="436.16" width="10.81" height="8.47" fill="rgb(62,41,204)"/>
<rect x="279.32" y="436.16" width="10.81" height="8.47" fill="rgb(50,90,240)"/>
<rect x="289.98" y="436.16" width="10.81" height="8.47" fill="rgb(59,33,189)"/>
<rect x="300.64" y="436.16" width="10.81" height="8.47" fill="rgb(64,45,214)"/>
<rect x="258.00" y="444.48" width="10.81" height="8.47" fill="rgb(66,48,217)"/>
<rect x="268.66" y="444.48" width="10.81" height="8.47" fill="rgb(64,45,209)"/>
<rect x="279.32" y="444.48" width="10.81" height="8.47" fill="rgb(62,43,209)"/>
<rect x="289.98" y="444.48" width="10.81" height="8.47" fill="rgb(62,41,204)"/>
<rect x="300.64" y="444.48" width="10.81" height="8.47" fill="rgb(64,45,214)"/>
<rect x="258.00" y="411.20" width="53.30" height="41.60" fill="none" stroke="#cfd3f5" stroke-opacity="0.6" stroke-width="0.55"/>
<text x="250.90" y="417.20" transform="rotate(0.05 250.90 417.20)" font-size="6.1" text-anchor="middle" fill="#fff" stroke="#fff" stroke-width="0.2">271</text>
<text x="250.90" y="433.60" transform="rotate(0.05 250.90 433.60)" font-size="6.1" text-anchor="middle" fill="#fff" stroke="#fff" stroke-width="0.2">273</text>
<text x="250.90" y="450.10" transform="rotate(0.05 250.90 450.10)" font-size="6.1" text-anchor="middle" fill="#fff" stroke="#fff" stroke-width="0.2">275</text>
<text x="262.70" y="460.60" transform="rotate(0.05 262.70 460.60)" font-size="6.1" text-anchor="middle" fill="#fff" stroke="#fff" stroke-width="0.2">117</text>
<text x="284.00" y="460.60" transform="rotate(0.05 284.00 460.60)" font-size="6.1" text-anchor="middle" fill="#fff" stroke="#fff" stroke-width="0.2">119</text>
<text x="305.50" y="460.60" transform="rotate(0.05 305.50 460.60)" font-size="6.1" text-anchor="middle" fill="#fff" stroke="#fff" stroke-width="0.2">121</text>
<circle cx="250.80" cy="459.00" r="0.9" fill="#3a78f0" fill-opacity="0.8"/>
<ellipse cx="250.80" cy="459.00" rx="7.00" ry="3.70" fill="none" stroke="#f4f4ff" stroke-width="1.25"/>
<rect x="348.60" y="410.10" width="125.50" height="100.00" fill="#4628dc"/>
<rect x="349" y="411" width="125" height="99" fill="#4628dc" filter="url(#nJ)"/>
<text x="375.38" y="519.20" transform="rotate(0.05 375.38 519.20)" font-size="6.15" text-anchor="middle" fill="#3c3c3c" >50</text>
<text x="402.42" y="519.20" transform="rotate(0.05 402.42 519.20)" font-size="6.15" text-anchor="middle" fill="#3c3c3c" >100</text>
<text x="429.47" y="519.20" transform="rotate(0.05 429.47 519.20)" font-size="6.15" text-anchor="middle" fill="#3c3c3c" >150</text>
<text x="456.52" y="519.20" transform="rotate(0.05 456.52 519.20)" font-size="6.15" text-anchor="middle" fill="#3c3c3c" >200</text>
<text x="346.30" y="430.39" transform="rotate(0.05 346.30 430.39)" font-size="6.15" text-anchor="end" fill="#3c3c3c" >100</text>
<text x="346.30" y="448.48" transform="rotate(0.05 346.30 448.48)" font-size="6.15" text-anchor="end" fill="#3c3c3c" >200</text>
<text x="346.30" y="466.56" transform="rotate(0.05 346.30 466.56)" font-size="6.15" text-anchor="end" fill="#3c3c3c" >300</text>
<text x="346.30" y="484.64" transform="rotate(0.05 346.30 484.64)" font-size="6.15" text-anchor="end" fill="#3c3c3c" >400</text>
<text x="346.30" y="502.73" transform="rotate(0.05 346.30 502.73)" font-size="6.15" text-anchor="end" fill="#3c3c3c" >500</text>
<text x="411.35" y="528.30" transform="rotate(0.05 411.35 528.30)" font-size="6.8" text-anchor="middle" fill="#303030" >Azimuth Doppler Cell</text>
<text transform="translate(332.80,460.10) rotate(-89.95)" font-size="6.55" text-anchor="middle" fill="#303030">Range Cell</text>
<text x="400.00" y="542.90" transform="rotate(0.05 400.00 542.90)" font-size="11.3" text-anchor="middle" fill="#111" class="cap">(<tspan font-weight="normal">l</tspan>)</text>
<rect x="421.30" y="411.70" width="10.55" height="8.31" fill="rgb(70,58,231)"/>
<rect x="431.70" y="411.70" width="10.55" height="8.31" fill="rgb(66,48,217)"/>
<rect x="442.10" y="411.70" width="10.55" height="8.31" fill="rgb(68,65,237)"/>
<rect x="452.50" y="411.70" width="10.55" height="8.31" fill="rgb(66,51,221)"/>
<rect x="462.90" y="411.70" width="10.55" height="8.31" fill="rgb(68,63,234)"/>
<rect x="421.30" y="419.86" width="10.55" height="8.31" fill="rgb(62,39,199)"/>
<rect x="431.70" y="419.86" width="10.55" height="8.31" fill="rgb(70,61,231)"/>
<rect x="442.10" y="419.86" width="10.55" height="8.31" fill="rgb(60,75,235)"/>
<rect x="452.50" y="419.86" width="10.55" height="8.31" fill="rgb(68,63,234)"/>
<rect x="462.90" y="419.86" width="10.55" height="8.31" fill="rgb(60,37,194)"/>
<rect x="421.30" y="428.02" width="10.55" height="8.31" fill="rgb(50,95,242)"/>
<rect x="431.70" y="428.02" width="10.55" height="8.31" fill="rgb(25,135,238)"/>
<rect x="442.10" y="428.02" width="10.55" height="8.31" fill="rgb(250,240,20)"/>
<rect x="452.50" y="428.02" width="10.55" height="8.31" fill="rgb(25,185,150)"/>
<rect x="462.90" y="428.02" width="10.55" height="8.31" fill="rgb(45,105,245)"/>
<rect x="421.30" y="436.18" width="10.55" height="8.31" fill="rgb(62,70,232)"/>
<rect x="431.70" y="436.18" width="10.55" height="8.31" fill="rgb(35,115,245)"/>
<rect x="442.10" y="436.18" width="10.55" height="8.31" fill="rgb(240,185,40)"/>
<rect x="452.50" y="436.18" width="10.55" height="8.31" fill="rgb(15,170,190)"/>
<rect x="462.90" y="436.18" width="10.55" height="8.31" fill="rgb(50,95,242)"/>
<rect x="421.30" y="444.34" width="10.55" height="8.31" fill="rgb(64,45,214)"/>
<rect x="431.70" y="444.34" width="10.55" height="8.31" fill="rgb(68,63,234)"/>
<rect x="442.10" y="444.34" width="10.55" height="8.31" fill="rgb(25,125,240)"/>
<rect x="452.50" y="444.34" width="10.55" height="8.31" fill="rgb(62,68,230)"/>
<rect x="462.90" y="444.34" width="10.55" height="8.31" fill="rgb(64,45,214)"/>
<rect x="421.30" y="411.70" width="52.00" height="40.80" fill="none" stroke="#cfd3f5" stroke-opacity="0.6" stroke-width="0.55"/>
<text x="414.30" y="418.20" transform="rotate(0.05 414.30 418.20)" font-size="6.1" text-anchor="middle" fill="#fff" stroke="#fff" stroke-width="0.2">274</text>
<text x="414.30" y="434.10" transform="rotate(0.05 414.30 434.10)" font-size="6.1" text-anchor="middle" fill="#fff" stroke="#fff" stroke-width="0.2">276</text>
<text x="414.30" y="450.40" transform="rotate(0.05 414.30 450.40)" font-size="6.1" text-anchor="middle" fill="#fff" stroke="#fff" stroke-width="0.2">278</text>
<text x="425.90" y="460.30" transform="rotate(0.05 425.90 460.30)" font-size="6.1" text-anchor="middle" fill="#fff" stroke="#fff" stroke-width="0.2">117</text>
<text x="447.00" y="460.30" transform="rotate(0.05 447.00 460.30)" font-size="6.1" text-anchor="middle" fill="#fff" stroke="#fff" stroke-width="0.2">119</text>
<text x="467.80" y="460.30" transform="rotate(0.05 467.80 460.30)" font-size="6.1" text-anchor="middle" fill="#fff" stroke="#fff" stroke-width="0.2">121</text>
<circle cx="412.90" cy="459.50" r="0.9" fill="#3a78f0" fill-opacity="0.8"/>
<ellipse cx="412.90" cy="459.50" rx="7.50" ry="3.70" fill="none" stroke="#f4f4ff" stroke-width="1.25"/>
</svg>
</body></html>
